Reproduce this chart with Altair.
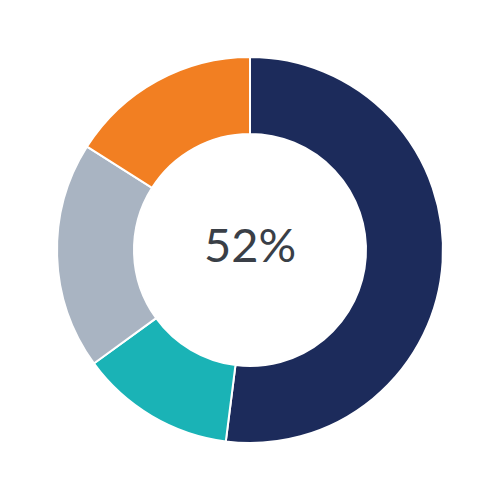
import altair as alt
import pandas as pd

categories = ["Navy", "Teal", "Gray", "Orange"]
values = [52, 13, 19, 16]
colors = ["#1c2b5b", "#1ab3b6", "#a9b4c2", "#f27f22"]
center_label = ["52%"]

df = pd.DataFrame({"category": categories, "value": values, "order": list(range(len(categories)))})
lab = pd.DataFrame({"label": center_label})

arc = alt.Chart(df).mark_arc(
    innerRadius=116, outerRadius=193, stroke="white", strokeWidth=2
).encode(
    theta=alt.Theta("value:Q", stack=True),
    order=alt.Order("order:Q"),
    color=alt.Color("category:N", scale=alt.Scale(domain=categories, range=colors), legend=None),
)

text = alt.Chart(lab).mark_text(
    font="Lato", fontSize=47, fontWeight=400, color="#3a3f47", baseline="middle", align="center", dy=-2
).encode(text="label:N")

chart = alt.layer(arc, text).properties(
    width=484, height=484, padding=0,
    autosize=alt.AutoSizeParams(type="fit", contains="padding"),
).configure_view(stroke=None)

chart.save("out.html", embed_options={"renderer": "svg", "actions": False})
